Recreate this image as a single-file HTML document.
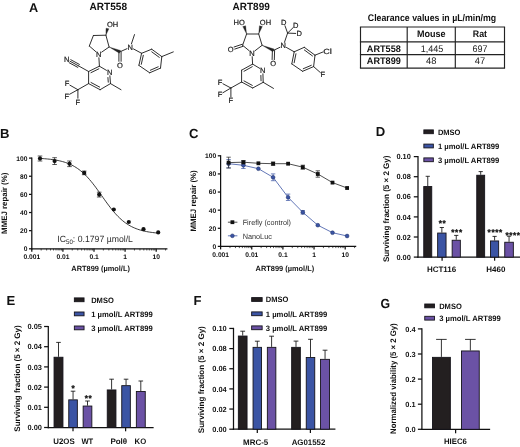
<!DOCTYPE html>
<html lang="en">
<head>
<meta charset="utf-8">
<title>ART558 / ART899 figure</title>
<style>
html,body{margin:0;padding:0;background:#fff;}
body{width:520px;height:447px;overflow:hidden;}
svg{display:block;font-family:'Liberation Sans', Arial, Helvetica, sans-serif;}
</style>
</head>
<body>
<svg width="520" height="447" viewBox="0 0 520 447" text-rendering="geometricPrecision">
<rect x="0" y="0" width="520" height="447" fill="#ffffff"/>
<g id="mol-art558">
<line x1="105.9" y1="35.2" x2="93.4" y2="35.5" stroke="#242424" stroke-width="0.95" stroke-linecap="round"/>
<line x1="93.4" y1="35.5" x2="89.3" y2="46" stroke="#242424" stroke-width="0.95" stroke-linecap="round"/>
<line x1="89.3" y1="46" x2="95.99" y2="51.83" stroke="#242424" stroke-width="0.95" stroke-linecap="round"/>
<line x1="101.66" y1="52.15" x2="109.1" y2="47" stroke="#242424" stroke-width="0.95" stroke-linecap="round"/>
<line x1="109.1" y1="47" x2="105.9" y2="35.2" stroke="#242424" stroke-width="0.95" stroke-linecap="round"/>
<polygon points="105.9,35.2 108.91,28.83 105.99,28.15" fill="#242424" stroke="#242424" stroke-width="0.3"/>
<polygon points="109.1,47 119.4,53.17 120.6,50.43" fill="#242424" stroke="#242424" stroke-width="0.3"/>
<line x1="118.9" y1="51.8" x2="118.9" y2="61.3" stroke="#242424" stroke-width="0.95" stroke-linecap="round"/>
<line x1="121.1" y1="51.8" x2="121.1" y2="61.3" stroke="#242424" stroke-width="0.95" stroke-linecap="round"/>
<line x1="120" y1="51.8" x2="127.01" y2="48.67" stroke="#242424" stroke-width="0.95" stroke-linecap="round"/>
<line x1="131.44" y1="43.78" x2="134.5" y2="34.6" stroke="#242424" stroke-width="0.95" stroke-linecap="round"/>
<line x1="133.47" y1="48.91" x2="141.6" y2="53.3" stroke="#242424" stroke-width="0.95" stroke-linecap="round"/>
<line x1="141.6" y1="53.3" x2="151.7" y2="49.2" stroke="#242424" stroke-width="0.95" stroke-linecap="round"/>
<line x1="151.7" y1="49.2" x2="161.8" y2="56.6" stroke="#242424" stroke-width="0.95" stroke-linecap="round"/>
<line x1="151.75" y1="51.84" x2="159.27" y2="57.35" stroke="#242424" stroke-width="0.95" stroke-linecap="round"/>
<line x1="161.8" y1="56.6" x2="160.5" y2="68.1" stroke="#242424" stroke-width="0.95" stroke-linecap="round"/>
<line x1="160.5" y1="68.1" x2="149.7" y2="72.8" stroke="#242424" stroke-width="0.95" stroke-linecap="round"/>
<line x1="158.19" y1="66.81" x2="150.33" y2="70.24" stroke="#242424" stroke-width="0.95" stroke-linecap="round"/>
<line x1="149.7" y1="72.8" x2="138.9" y2="65.4" stroke="#242424" stroke-width="0.95" stroke-linecap="round"/>
<line x1="138.9" y1="65.4" x2="141.6" y2="53.3" stroke="#242424" stroke-width="0.95" stroke-linecap="round"/>
<line x1="141.3" y1="64.3" x2="143.3" y2="55.32" stroke="#242424" stroke-width="0.95" stroke-linecap="round"/>
<line x1="161.8" y1="56.6" x2="173.3" y2="51.9" stroke="#242424" stroke-width="0.95" stroke-linecap="round"/>
<line x1="98.91" y1="57.79" x2="99.4" y2="66.2" stroke="#242424" stroke-width="0.95" stroke-linecap="round"/>
<line x1="99.4" y1="66.2" x2="106.5" y2="70.37" stroke="#242424" stroke-width="0.95" stroke-linecap="round"/>
<line x1="109.88" y1="75.79" x2="110.5" y2="83.6" stroke="#242424" stroke-width="0.95" stroke-linecap="round"/>
<line x1="107.92" y1="77.55" x2="108.28" y2="82.17" stroke="#242424" stroke-width="0.95" stroke-linecap="round"/>
<line x1="110.5" y1="83.6" x2="100.1" y2="89.7" stroke="#242424" stroke-width="0.95" stroke-linecap="round"/>
<line x1="100.1" y1="89.7" x2="88.6" y2="83.6" stroke="#242424" stroke-width="0.95" stroke-linecap="round"/>
<line x1="99.67" y1="87.1" x2="91" y2="82.49" stroke="#242424" stroke-width="0.95" stroke-linecap="round"/>
<line x1="88.6" y1="83.6" x2="88.6" y2="71.5" stroke="#242424" stroke-width="0.95" stroke-linecap="round"/>
<line x1="88.6" y1="71.5" x2="99.4" y2="66.2" stroke="#242424" stroke-width="0.95" stroke-linecap="round"/>
<line x1="90.96" y1="72.68" x2="98.89" y2="68.79" stroke="#242424" stroke-width="0.95" stroke-linecap="round"/>
<line x1="110.5" y1="83.6" x2="121" y2="89.7" stroke="#242424" stroke-width="0.95" stroke-linecap="round"/>
<line x1="88.6" y1="71.5" x2="78.6" y2="65.9" stroke="#242424" stroke-width="0.95" stroke-linecap="round"/>
<line x1="77.79" y1="67.39" x2="69.15" y2="62.71" stroke="#242424" stroke-width="0.95" stroke-linecap="round"/>
<line x1="78.6" y1="65.9" x2="69.96" y2="61.22" stroke="#242424" stroke-width="0.95" stroke-linecap="round"/>
<line x1="79.41" y1="64.41" x2="70.78" y2="59.72" stroke="#242424" stroke-width="0.95" stroke-linecap="round"/>
<line x1="88.6" y1="83.6" x2="77.9" y2="89.7" stroke="#242424" stroke-width="0.95" stroke-linecap="round"/>
<line x1="77.9" y1="89.7" x2="69.89" y2="85.17" stroke="#242424" stroke-width="0.95" stroke-linecap="round"/>
<line x1="77.9" y1="89.7" x2="69.6" y2="94.26" stroke="#242424" stroke-width="0.95" stroke-linecap="round"/>
<line x1="77.9" y1="89.7" x2="77.9" y2="98.2" stroke="#242424" stroke-width="0.95" stroke-linecap="round"/>
<text x="107" y="27.1" font-size="7.5" font-weight="normal" text-anchor="start" fill="#242424" stroke="#242424" stroke-width="0.22">OH</text>
<text x="98.7" y="56.9" font-size="7.5" font-weight="normal" text-anchor="middle" fill="#242424" stroke="#242424" stroke-width="0.22">N</text>
<text x="120" y="68" font-size="7.5" font-weight="normal" text-anchor="middle" fill="#242424" stroke="#242424" stroke-width="0.22">O</text>
<text x="130.3" y="49.9" font-size="7.5" font-weight="normal" text-anchor="middle" fill="#242424" stroke="#242424" stroke-width="0.22">N</text>
<text x="109.6" y="74.9" font-size="7.5" font-weight="normal" text-anchor="middle" fill="#242424" stroke="#242424" stroke-width="0.22">N</text>
<text x="66.8" y="62.2" font-size="7.5" font-weight="normal" text-anchor="middle" fill="#242424" stroke="#242424" stroke-width="0.22">N</text>
<text x="67.1" y="86.3" font-size="7.5" font-weight="normal" text-anchor="middle" fill="#242424" stroke="#242424" stroke-width="0.22">F</text>
<text x="66.8" y="98.5" font-size="7.5" font-weight="normal" text-anchor="middle" fill="#242424" stroke="#242424" stroke-width="0.22">F</text>
<text x="77.9" y="104.5" font-size="7.5" font-weight="normal" text-anchor="middle" fill="#242424" stroke="#242424" stroke-width="0.22">F</text>
</g>
<g id="mol-art899">
<line x1="246.6" y1="34" x2="258.7" y2="34" stroke="#242424" stroke-width="0.95" stroke-linecap="round"/>
<line x1="258.7" y1="34" x2="262.1" y2="45.3" stroke="#242424" stroke-width="0.95" stroke-linecap="round"/>
<line x1="262.1" y1="45.3" x2="254.85" y2="50.9" stroke="#242424" stroke-width="0.95" stroke-linecap="round"/>
<line x1="249.23" y1="50.8" x2="242.6" y2="45.3" stroke="#242424" stroke-width="0.95" stroke-linecap="round"/>
<line x1="242.6" y1="45.3" x2="246.6" y2="34" stroke="#242424" stroke-width="0.95" stroke-linecap="round"/>
<polygon points="246.6,34 245.65,25.69 242.78,26.55" fill="#242424" stroke="#242424" stroke-width="0.3"/>
<polygon points="258.7,34 262.32,26.55 259.43,25.75" fill="#242424" stroke="#242424" stroke-width="0.3"/>
<line x1="242.25" y1="44.26" x2="234.05" y2="46.99" stroke="#242424" stroke-width="0.95" stroke-linecap="round"/>
<line x1="242.95" y1="46.34" x2="234.74" y2="49.08" stroke="#242424" stroke-width="0.95" stroke-linecap="round"/>
<polygon points="262.1,45.3 272.89,51.77 274.11,49.03" fill="#242424" stroke="#242424" stroke-width="0.3"/>
<line x1="272.4" y1="50.37" x2="272.12" y2="59.57" stroke="#242424" stroke-width="0.95" stroke-linecap="round"/>
<line x1="274.6" y1="50.43" x2="274.32" y2="59.64" stroke="#242424" stroke-width="0.95" stroke-linecap="round"/>
<line x1="273.5" y1="50.4" x2="280.05" y2="47.26" stroke="#242424" stroke-width="0.95" stroke-linecap="round"/>
<line x1="284.46" y1="42.29" x2="287.6" y2="33.1" stroke="#242424" stroke-width="0.95" stroke-linecap="round"/>
<line x1="287.6" y1="33.1" x2="285" y2="25.79" stroke="#242424" stroke-width="0.95" stroke-linecap="round"/>
<line x1="287.6" y1="33.1" x2="293.14" y2="27.63" stroke="#242424" stroke-width="0.95" stroke-linecap="round"/>
<line x1="287.6" y1="33.1" x2="295.7" y2="33.45" stroke="#242424" stroke-width="0.95" stroke-linecap="round"/>
<line x1="286.44" y1="47.46" x2="294.2" y2="51.8" stroke="#242424" stroke-width="0.95" stroke-linecap="round"/>
<line x1="294.2" y1="51.8" x2="304.3" y2="47.3" stroke="#242424" stroke-width="0.95" stroke-linecap="round"/>
<line x1="304.3" y1="47.3" x2="315" y2="55.2" stroke="#242424" stroke-width="0.95" stroke-linecap="round"/>
<line x1="304.34" y1="49.94" x2="312.47" y2="55.94" stroke="#242424" stroke-width="0.95" stroke-linecap="round"/>
<line x1="315" y1="55.2" x2="313.6" y2="66.6" stroke="#242424" stroke-width="0.95" stroke-linecap="round"/>
<line x1="313.6" y1="66.6" x2="302.6" y2="71.3" stroke="#242424" stroke-width="0.95" stroke-linecap="round"/>
<line x1="311.3" y1="65.3" x2="303.25" y2="68.74" stroke="#242424" stroke-width="0.95" stroke-linecap="round"/>
<line x1="302.6" y1="71.3" x2="291.8" y2="63.9" stroke="#242424" stroke-width="0.95" stroke-linecap="round"/>
<line x1="291.8" y1="63.9" x2="294.2" y2="51.8" stroke="#242424" stroke-width="0.95" stroke-linecap="round"/>
<line x1="294.17" y1="62.74" x2="295.95" y2="53.78" stroke="#242424" stroke-width="0.95" stroke-linecap="round"/>
<line x1="315" y1="55.2" x2="322.82" y2="52.03" stroke="#242424" stroke-width="0.95" stroke-linecap="round"/>
<line x1="313.6" y1="66.6" x2="320.4" y2="72.59" stroke="#242424" stroke-width="0.95" stroke-linecap="round"/>
<line x1="252.2" y1="56.69" x2="252.6" y2="64.1" stroke="#242424" stroke-width="0.95" stroke-linecap="round"/>
<line x1="252.6" y1="64.1" x2="259.71" y2="68.35" stroke="#242424" stroke-width="0.95" stroke-linecap="round"/>
<line x1="262.92" y1="73.8" x2="263.2" y2="82.3" stroke="#242424" stroke-width="0.95" stroke-linecap="round"/>
<line x1="260.87" y1="75.47" x2="261.05" y2="80.77" stroke="#242424" stroke-width="0.95" stroke-linecap="round"/>
<line x1="263.2" y1="82.3" x2="252.7" y2="88" stroke="#242424" stroke-width="0.95" stroke-linecap="round"/>
<line x1="252.7" y1="88" x2="241.6" y2="82" stroke="#242424" stroke-width="0.95" stroke-linecap="round"/>
<line x1="252.29" y1="85.39" x2="244.01" y2="80.91" stroke="#242424" stroke-width="0.95" stroke-linecap="round"/>
<line x1="241.6" y1="82" x2="241.6" y2="70.2" stroke="#242424" stroke-width="0.95" stroke-linecap="round"/>
<line x1="241.6" y1="70.2" x2="252.6" y2="64.1" stroke="#242424" stroke-width="0.95" stroke-linecap="round"/>
<line x1="244.02" y1="71.26" x2="252.22" y2="66.71" stroke="#242424" stroke-width="0.95" stroke-linecap="round"/>
<line x1="263.2" y1="82.3" x2="273.5" y2="88.4" stroke="#242424" stroke-width="0.95" stroke-linecap="round"/>
<line x1="241.6" y1="82" x2="230.9" y2="88" stroke="#242424" stroke-width="0.95" stroke-linecap="round"/>
<line x1="230.9" y1="88" x2="222.93" y2="83.79" stroke="#242424" stroke-width="0.95" stroke-linecap="round"/>
<line x1="230.9" y1="88" x2="222.85" y2="92.77" stroke="#242424" stroke-width="0.95" stroke-linecap="round"/>
<line x1="230.9" y1="88" x2="230.9" y2="96.9" stroke="#242424" stroke-width="0.95" stroke-linecap="round"/>
<text x="244.8" y="24.8" font-size="7.5" font-weight="normal" text-anchor="end" fill="#242424" stroke="#242424" stroke-width="0.22">HO</text>
<text x="259.8" y="24.8" font-size="7.5" font-weight="normal" text-anchor="start" fill="#242424" stroke="#242424" stroke-width="0.22">OH</text>
<text x="230.6" y="52" font-size="7.5" font-weight="normal" text-anchor="middle" fill="#242424" stroke="#242424" stroke-width="0.22">O</text>
<text x="252" y="55.8" font-size="7.5" font-weight="normal" text-anchor="middle" fill="#242424" stroke="#242424" stroke-width="0.22">N</text>
<text x="273.1" y="66.3" font-size="7.5" font-weight="normal" text-anchor="middle" fill="#242424" stroke="#242424" stroke-width="0.22">O</text>
<text x="283.3" y="48.4" font-size="7.5" font-weight="normal" text-anchor="middle" fill="#242424" stroke="#242424" stroke-width="0.22">N</text>
<text x="283.8" y="25.1" font-size="7.5" font-weight="normal" text-anchor="middle" fill="#242424" stroke="#242424" stroke-width="0.22">D</text>
<text x="295.7" y="27.8" font-size="7.5" font-weight="normal" text-anchor="middle" fill="#242424" stroke="#242424" stroke-width="0.22">D</text>
<text x="299.3" y="36.3" font-size="7.5" font-weight="normal" text-anchor="middle" fill="#242424" stroke="#242424" stroke-width="0.22">D</text>
<text x="323.2" y="53.6" font-size="7.5" font-weight="normal" text-anchor="start" fill="#242424" textLength="8.6" lengthAdjust="spacingAndGlyphs" stroke="#242424" stroke-width="0.22">Cl</text>
<text x="322.8" y="77.4" font-size="7.5" font-weight="normal" text-anchor="middle" fill="#242424" stroke="#242424" stroke-width="0.22">F</text>
<text x="262.8" y="72.9" font-size="7.5" font-weight="normal" text-anchor="middle" fill="#242424" stroke="#242424" stroke-width="0.22">N</text>
<text x="220.1" y="85" font-size="7.5" font-weight="normal" text-anchor="middle" fill="#242424" stroke="#242424" stroke-width="0.22">F</text>
<text x="220.1" y="97.1" font-size="7.5" font-weight="normal" text-anchor="middle" fill="#242424" stroke="#242424" stroke-width="0.22">F</text>
<text x="230.9" y="103.2" font-size="7.5" font-weight="normal" text-anchor="middle" fill="#242424" stroke="#242424" stroke-width="0.22">F</text>
</g>
<text x="29" y="12.1" font-size="12.7" font-weight="bold" text-anchor="start" fill="#111">A</text>
<text x="89.5" y="10" font-size="10.4" font-weight="bold" text-anchor="start" fill="#111" textLength="37.5" lengthAdjust="spacingAndGlyphs">ART558</text>
<text x="232.6" y="10" font-size="10.4" font-weight="bold" text-anchor="start" fill="#111" textLength="37.2" lengthAdjust="spacingAndGlyphs">ART899</text>
<text x="0" y="138.3" font-size="13.1" font-weight="bold" text-anchor="start" fill="#111">B</text>
<text x="189" y="138.4" font-size="13.1" font-weight="bold" text-anchor="start" fill="#111">C</text>
<text x="375.8" y="136.3" font-size="13.1" font-weight="bold" text-anchor="start" fill="#111">D</text>
<text x="6.4" y="304.8" font-size="13.1" font-weight="bold" text-anchor="start" fill="#111">E</text>
<text x="193.6" y="305.3" font-size="13.1" font-weight="bold" text-anchor="start" fill="#111">F</text>
<text x="380.6" y="308.3" font-size="13.1" font-weight="bold" text-anchor="start" fill="#111" textLength="9.6" lengthAdjust="spacingAndGlyphs">G</text>
<text x="432" y="21.4" font-size="9.7" font-weight="bold" text-anchor="middle" fill="#111" textLength="128.4" lengthAdjust="spacingAndGlyphs">Clearance values in µL/min/mg</text>
<line x1="360.5" y1="27" x2="504.5" y2="27" stroke="#222" stroke-width="1.15" stroke-linecap="square"/>
<line x1="360.5" y1="41.8" x2="504.5" y2="41.8" stroke="#222" stroke-width="1.15" stroke-linecap="square"/>
<line x1="360.5" y1="54.6" x2="504.5" y2="54.6" stroke="#222" stroke-width="1.15" stroke-linecap="square"/>
<line x1="360.5" y1="68.1" x2="504.5" y2="68.1" stroke="#222" stroke-width="1.15" stroke-linecap="square"/>
<line x1="360.5" y1="27" x2="360.5" y2="68.1" stroke="#222" stroke-width="1.15" stroke-linecap="butt"/>
<line x1="407.2" y1="27" x2="407.2" y2="68.1" stroke="#222" stroke-width="1.15" stroke-linecap="butt"/>
<line x1="455.3" y1="27" x2="455.3" y2="68.1" stroke="#222" stroke-width="1.15" stroke-linecap="butt"/>
<line x1="504.5" y1="27" x2="504.5" y2="68.1" stroke="#222" stroke-width="1.15" stroke-linecap="butt"/>
<text x="431.25" y="37.4" font-size="9.6" font-weight="bold" text-anchor="middle" fill="#111" textLength="28.6" lengthAdjust="spacingAndGlyphs">Mouse</text>
<text x="479.9" y="37.4" font-size="9.6" font-weight="bold" text-anchor="middle" fill="#111" textLength="14.2" lengthAdjust="spacingAndGlyphs">Rat</text>
<text x="383.85" y="51.5" font-size="9.6" font-weight="bold" text-anchor="middle" fill="#111" textLength="34" lengthAdjust="spacingAndGlyphs">ART558</text>
<text x="383.85" y="64.4" font-size="9.6" font-weight="bold" text-anchor="middle" fill="#111" textLength="34" lengthAdjust="spacingAndGlyphs">ART899</text>
<text x="432.05" y="51.7" font-size="9.6" font-weight="normal" text-anchor="middle" fill="#222" textLength="22.6" lengthAdjust="spacingAndGlyphs">1,445</text>
<text x="479.9" y="51.7" font-size="9.6" font-weight="normal" text-anchor="middle" fill="#222" textLength="15" lengthAdjust="spacingAndGlyphs">697</text>
<text x="431.25" y="64.4" font-size="9.6" font-weight="normal" text-anchor="middle" fill="#222" textLength="10.4" lengthAdjust="spacingAndGlyphs">48</text>
<text x="479.9" y="64.4" font-size="9.6" font-weight="normal" text-anchor="middle" fill="#222" textLength="10.4" lengthAdjust="spacingAndGlyphs">47</text>
<g id="panel-b">
<line x1="31.8" y1="158.1" x2="31.8" y2="248.8" stroke="#111" stroke-width="1.25" stroke-linecap="square"/>
<line x1="29" y1="248.8" x2="31.8" y2="248.8" stroke="#111" stroke-width="1.25" stroke-linecap="butt"/>
<text x="27.4" y="251.21" font-size="6.7" font-weight="bold" text-anchor="end" fill="#111">0</text>
<line x1="29" y1="230.66" x2="31.8" y2="230.66" stroke="#111" stroke-width="1.25" stroke-linecap="butt"/>
<text x="27.4" y="233.07" font-size="6.7" font-weight="bold" text-anchor="end" fill="#111">20</text>
<line x1="29" y1="212.52" x2="31.8" y2="212.52" stroke="#111" stroke-width="1.25" stroke-linecap="butt"/>
<text x="27.4" y="214.93" font-size="6.7" font-weight="bold" text-anchor="end" fill="#111">40</text>
<line x1="29" y1="194.38" x2="31.8" y2="194.38" stroke="#111" stroke-width="1.25" stroke-linecap="butt"/>
<text x="27.4" y="196.79" font-size="6.7" font-weight="bold" text-anchor="end" fill="#111">60</text>
<line x1="29" y1="176.24" x2="31.8" y2="176.24" stroke="#111" stroke-width="1.25" stroke-linecap="butt"/>
<text x="27.4" y="178.65" font-size="6.7" font-weight="bold" text-anchor="end" fill="#111">80</text>
<line x1="29" y1="158.1" x2="31.8" y2="158.1" stroke="#111" stroke-width="1.25" stroke-linecap="butt"/>
<text x="27.4" y="160.51" font-size="6.7" font-weight="bold" text-anchor="end" fill="#111">100</text>
<line x1="31.8" y1="248.8" x2="166.8" y2="248.8" stroke="#111" stroke-width="1.25" stroke-linecap="square"/>
<line x1="31.8" y1="248.8" x2="31.8" y2="251.8" stroke="#111" stroke-width="1.25" stroke-linecap="butt"/>
<line x1="41.16" y1="248.8" x2="41.16" y2="250.5" stroke="#111" stroke-width="0.7" stroke-linecap="butt"/>
<line x1="46.64" y1="248.8" x2="46.64" y2="250.5" stroke="#111" stroke-width="0.7" stroke-linecap="butt"/>
<line x1="50.52" y1="248.8" x2="50.52" y2="250.5" stroke="#111" stroke-width="0.7" stroke-linecap="butt"/>
<line x1="53.54" y1="248.8" x2="53.54" y2="250.5" stroke="#111" stroke-width="0.7" stroke-linecap="butt"/>
<line x1="56" y1="248.8" x2="56" y2="250.5" stroke="#111" stroke-width="0.7" stroke-linecap="butt"/>
<line x1="58.08" y1="248.8" x2="58.08" y2="250.5" stroke="#111" stroke-width="0.7" stroke-linecap="butt"/>
<line x1="59.89" y1="248.8" x2="59.89" y2="250.5" stroke="#111" stroke-width="0.7" stroke-linecap="butt"/>
<line x1="61.48" y1="248.8" x2="61.48" y2="250.5" stroke="#111" stroke-width="0.7" stroke-linecap="butt"/>
<line x1="62.9" y1="248.8" x2="62.9" y2="251.8" stroke="#111" stroke-width="1.25" stroke-linecap="butt"/>
<line x1="72.26" y1="248.8" x2="72.26" y2="250.5" stroke="#111" stroke-width="0.7" stroke-linecap="butt"/>
<line x1="77.74" y1="248.8" x2="77.74" y2="250.5" stroke="#111" stroke-width="0.7" stroke-linecap="butt"/>
<line x1="81.62" y1="248.8" x2="81.62" y2="250.5" stroke="#111" stroke-width="0.7" stroke-linecap="butt"/>
<line x1="84.64" y1="248.8" x2="84.64" y2="250.5" stroke="#111" stroke-width="0.7" stroke-linecap="butt"/>
<line x1="87.1" y1="248.8" x2="87.1" y2="250.5" stroke="#111" stroke-width="0.7" stroke-linecap="butt"/>
<line x1="89.18" y1="248.8" x2="89.18" y2="250.5" stroke="#111" stroke-width="0.7" stroke-linecap="butt"/>
<line x1="90.99" y1="248.8" x2="90.99" y2="250.5" stroke="#111" stroke-width="0.7" stroke-linecap="butt"/>
<line x1="92.58" y1="248.8" x2="92.58" y2="250.5" stroke="#111" stroke-width="0.7" stroke-linecap="butt"/>
<line x1="94" y1="248.8" x2="94" y2="251.8" stroke="#111" stroke-width="1.25" stroke-linecap="butt"/>
<line x1="103.36" y1="248.8" x2="103.36" y2="250.5" stroke="#111" stroke-width="0.7" stroke-linecap="butt"/>
<line x1="108.84" y1="248.8" x2="108.84" y2="250.5" stroke="#111" stroke-width="0.7" stroke-linecap="butt"/>
<line x1="112.72" y1="248.8" x2="112.72" y2="250.5" stroke="#111" stroke-width="0.7" stroke-linecap="butt"/>
<line x1="115.74" y1="248.8" x2="115.74" y2="250.5" stroke="#111" stroke-width="0.7" stroke-linecap="butt"/>
<line x1="118.2" y1="248.8" x2="118.2" y2="250.5" stroke="#111" stroke-width="0.7" stroke-linecap="butt"/>
<line x1="120.28" y1="248.8" x2="120.28" y2="250.5" stroke="#111" stroke-width="0.7" stroke-linecap="butt"/>
<line x1="122.09" y1="248.8" x2="122.09" y2="250.5" stroke="#111" stroke-width="0.7" stroke-linecap="butt"/>
<line x1="123.68" y1="248.8" x2="123.68" y2="250.5" stroke="#111" stroke-width="0.7" stroke-linecap="butt"/>
<line x1="125.1" y1="248.8" x2="125.1" y2="251.8" stroke="#111" stroke-width="1.25" stroke-linecap="butt"/>
<line x1="134.46" y1="248.8" x2="134.46" y2="250.5" stroke="#111" stroke-width="0.7" stroke-linecap="butt"/>
<line x1="139.94" y1="248.8" x2="139.94" y2="250.5" stroke="#111" stroke-width="0.7" stroke-linecap="butt"/>
<line x1="143.82" y1="248.8" x2="143.82" y2="250.5" stroke="#111" stroke-width="0.7" stroke-linecap="butt"/>
<line x1="146.84" y1="248.8" x2="146.84" y2="250.5" stroke="#111" stroke-width="0.7" stroke-linecap="butt"/>
<line x1="149.3" y1="248.8" x2="149.3" y2="250.5" stroke="#111" stroke-width="0.7" stroke-linecap="butt"/>
<line x1="151.38" y1="248.8" x2="151.38" y2="250.5" stroke="#111" stroke-width="0.7" stroke-linecap="butt"/>
<line x1="153.19" y1="248.8" x2="153.19" y2="250.5" stroke="#111" stroke-width="0.7" stroke-linecap="butt"/>
<line x1="154.78" y1="248.8" x2="154.78" y2="250.5" stroke="#111" stroke-width="0.7" stroke-linecap="butt"/>
<line x1="156.2" y1="248.8" x2="156.2" y2="251.8" stroke="#111" stroke-width="1.25" stroke-linecap="butt"/>
<line x1="165.56" y1="248.8" x2="165.56" y2="250.5" stroke="#111" stroke-width="0.7" stroke-linecap="butt"/>
<text x="31.9" y="258.9" font-size="6.7" font-weight="bold" text-anchor="middle" fill="#111">0.001</text>
<text x="63" y="258.9" font-size="6.7" font-weight="bold" text-anchor="middle" fill="#111">0.01</text>
<text x="94.1" y="258.9" font-size="6.7" font-weight="bold" text-anchor="middle" fill="#111">0.1</text>
<text x="125.2" y="258.9" font-size="6.7" font-weight="bold" text-anchor="middle" fill="#111">1</text>
<text x="156.3" y="258.9" font-size="6.7" font-weight="bold" text-anchor="middle" fill="#111">10</text>
<text x="6.9" y="203.3" font-size="7.9" font-weight="bold" text-anchor="middle" fill="#111" transform="rotate(-90 6.9 203.3)" textLength="61.2" lengthAdjust="spacingAndGlyphs">MMEJ repair (%)</text>
<text x="100.6" y="270.5" font-size="7.5" font-weight="bold" text-anchor="middle" fill="#111" textLength="58.6" lengthAdjust="spacingAndGlyphs">ART899 (µmol/L)</text>
<polyline fill="none" stroke="#222" stroke-width="0.9" points="40.1,158.43 41.6,158.52 43.1,158.62 44.6,158.73 46.1,158.86 47.6,159 49.1,159.15 50.6,159.32 52.1,159.52 53.6,159.73 55.1,159.97 56.6,160.23 58.1,160.52 59.6,160.85 61.1,161.21 62.6,161.6 64.1,162.04 65.6,162.52 67.1,163.06 68.6,163.64 70.1,164.29 71.6,164.99 73.1,165.76 74.6,166.6 76.1,167.52 77.6,168.51 79.1,169.59 80.6,170.76 82.1,172.01 83.6,173.35 85.1,174.78 86.6,176.3 88.1,177.91 89.6,179.61 91.1,181.39 92.6,183.25 94.1,185.18 95.6,187.17 97.1,189.21 98.6,191.29 100.1,193.39 101.6,195.52 103.1,197.65 104.6,199.76 106.1,201.86 107.6,203.91 109.1,205.92 110.6,207.88 112.1,209.77 113.6,211.58 115.1,213.31 116.6,214.96 118.1,216.52 119.6,217.99 121.1,219.37 122.6,220.66 124.1,221.86 125.6,222.98 127.1,224 128.6,224.95 130.1,225.83 131.6,226.63 133.1,227.36 134.6,228.03 136.1,228.64 137.6,229.19 139.1,229.7 140.6,230.15 142.1,230.57 143.6,230.94 145.1,231.28 146.6,231.58 148.1,231.86 149.6,232.11 151.1,232.33 152.6,232.53 154.1,232.71 155.6,232.87 157.1,233.02"/>
<line x1="40" y1="156" x2="40" y2="161" stroke="#111" stroke-width="0.7" stroke-linecap="butt"/>
<line x1="37.7" y1="156" x2="42.3" y2="156" stroke="#111" stroke-width="0.7" stroke-linecap="butt"/>
<line x1="37.7" y1="161" x2="42.3" y2="161" stroke="#111" stroke-width="0.7" stroke-linecap="butt"/>
<circle cx="40" cy="158.5" r="2.1" fill="#111"/>
<line x1="54.6" y1="157.7" x2="54.6" y2="164.5" stroke="#111" stroke-width="0.7" stroke-linecap="butt"/>
<line x1="52.3" y1="157.7" x2="56.9" y2="157.7" stroke="#111" stroke-width="0.7" stroke-linecap="butt"/>
<line x1="52.3" y1="164.5" x2="56.9" y2="164.5" stroke="#111" stroke-width="0.7" stroke-linecap="butt"/>
<circle cx="54.6" cy="161.1" r="2.1" fill="#111"/>
<line x1="69.5" y1="161" x2="69.5" y2="166.6" stroke="#111" stroke-width="0.7" stroke-linecap="butt"/>
<line x1="67.2" y1="161" x2="71.8" y2="161" stroke="#111" stroke-width="0.7" stroke-linecap="butt"/>
<line x1="67.2" y1="166.6" x2="71.8" y2="166.6" stroke="#111" stroke-width="0.7" stroke-linecap="butt"/>
<circle cx="69.5" cy="163.8" r="2.1" fill="#111"/>
<line x1="84.2" y1="171.1" x2="84.2" y2="174.7" stroke="#111" stroke-width="0.7" stroke-linecap="butt"/>
<line x1="81.9" y1="171.1" x2="86.5" y2="171.1" stroke="#111" stroke-width="0.7" stroke-linecap="butt"/>
<line x1="81.9" y1="174.7" x2="86.5" y2="174.7" stroke="#111" stroke-width="0.7" stroke-linecap="butt"/>
<circle cx="84.2" cy="172.9" r="2.1" fill="#111"/>
<line x1="99.2" y1="192.2" x2="99.2" y2="197" stroke="#111" stroke-width="0.7" stroke-linecap="butt"/>
<line x1="96.9" y1="192.2" x2="101.5" y2="192.2" stroke="#111" stroke-width="0.7" stroke-linecap="butt"/>
<line x1="96.9" y1="197" x2="101.5" y2="197" stroke="#111" stroke-width="0.7" stroke-linecap="butt"/>
<circle cx="99.2" cy="194.6" r="2.1" fill="#111"/>
<circle cx="113.8" cy="209.5" r="2.1" fill="#111"/>
<circle cx="128.8" cy="222" r="2.1" fill="#111"/>
<circle cx="143.5" cy="229.2" r="2.1" fill="#111"/>
<circle cx="158.2" cy="232.4" r="2.1" fill="#111"/>
<text x="57.3" y="241.9" font-size="9" font-weight="normal" fill="#2e2e2e" textLength="75.6" lengthAdjust="spacingAndGlyphs">IC<tspan font-size="6.4" dy="2">50</tspan><tspan dy="-2">: 0.1797 µmol/L</tspan></text>
</g>
<g id="panel-c">
<line x1="220.6" y1="155.8" x2="220.6" y2="246.4" stroke="#111" stroke-width="1.25" stroke-linecap="square"/>
<line x1="217.8" y1="246.4" x2="220.6" y2="246.4" stroke="#111" stroke-width="1.25" stroke-linecap="butt"/>
<text x="216.2" y="248.81" font-size="6.7" font-weight="bold" text-anchor="end" fill="#111">0</text>
<line x1="217.8" y1="228.28" x2="220.6" y2="228.28" stroke="#111" stroke-width="1.25" stroke-linecap="butt"/>
<text x="216.2" y="230.69" font-size="6.7" font-weight="bold" text-anchor="end" fill="#111">20</text>
<line x1="217.8" y1="210.16" x2="220.6" y2="210.16" stroke="#111" stroke-width="1.25" stroke-linecap="butt"/>
<text x="216.2" y="212.57" font-size="6.7" font-weight="bold" text-anchor="end" fill="#111">40</text>
<line x1="217.8" y1="192.04" x2="220.6" y2="192.04" stroke="#111" stroke-width="1.25" stroke-linecap="butt"/>
<text x="216.2" y="194.45" font-size="6.7" font-weight="bold" text-anchor="end" fill="#111">60</text>
<line x1="217.8" y1="173.92" x2="220.6" y2="173.92" stroke="#111" stroke-width="1.25" stroke-linecap="butt"/>
<text x="216.2" y="176.33" font-size="6.7" font-weight="bold" text-anchor="end" fill="#111">80</text>
<line x1="217.8" y1="155.8" x2="220.6" y2="155.8" stroke="#111" stroke-width="1.25" stroke-linecap="butt"/>
<text x="216.2" y="158.21" font-size="6.7" font-weight="bold" text-anchor="end" fill="#111">100</text>
<line x1="220.6" y1="246.4" x2="355.6" y2="246.4" stroke="#111" stroke-width="1.25" stroke-linecap="square"/>
<line x1="220.6" y1="246.4" x2="220.6" y2="249.4" stroke="#111" stroke-width="1.25" stroke-linecap="butt"/>
<line x1="229.98" y1="246.4" x2="229.98" y2="248.1" stroke="#111" stroke-width="0.7" stroke-linecap="butt"/>
<line x1="235.46" y1="246.4" x2="235.46" y2="248.1" stroke="#111" stroke-width="0.7" stroke-linecap="butt"/>
<line x1="239.35" y1="246.4" x2="239.35" y2="248.1" stroke="#111" stroke-width="0.7" stroke-linecap="butt"/>
<line x1="242.37" y1="246.4" x2="242.37" y2="248.1" stroke="#111" stroke-width="0.7" stroke-linecap="butt"/>
<line x1="244.84" y1="246.4" x2="244.84" y2="248.1" stroke="#111" stroke-width="0.7" stroke-linecap="butt"/>
<line x1="246.92" y1="246.4" x2="246.92" y2="248.1" stroke="#111" stroke-width="0.7" stroke-linecap="butt"/>
<line x1="248.73" y1="246.4" x2="248.73" y2="248.1" stroke="#111" stroke-width="0.7" stroke-linecap="butt"/>
<line x1="250.32" y1="246.4" x2="250.32" y2="248.1" stroke="#111" stroke-width="0.7" stroke-linecap="butt"/>
<line x1="251.75" y1="246.4" x2="251.75" y2="249.4" stroke="#111" stroke-width="1.25" stroke-linecap="butt"/>
<line x1="261.13" y1="246.4" x2="261.13" y2="248.1" stroke="#111" stroke-width="0.7" stroke-linecap="butt"/>
<line x1="266.61" y1="246.4" x2="266.61" y2="248.1" stroke="#111" stroke-width="0.7" stroke-linecap="butt"/>
<line x1="270.5" y1="246.4" x2="270.5" y2="248.1" stroke="#111" stroke-width="0.7" stroke-linecap="butt"/>
<line x1="273.52" y1="246.4" x2="273.52" y2="248.1" stroke="#111" stroke-width="0.7" stroke-linecap="butt"/>
<line x1="275.99" y1="246.4" x2="275.99" y2="248.1" stroke="#111" stroke-width="0.7" stroke-linecap="butt"/>
<line x1="278.07" y1="246.4" x2="278.07" y2="248.1" stroke="#111" stroke-width="0.7" stroke-linecap="butt"/>
<line x1="279.88" y1="246.4" x2="279.88" y2="248.1" stroke="#111" stroke-width="0.7" stroke-linecap="butt"/>
<line x1="281.47" y1="246.4" x2="281.47" y2="248.1" stroke="#111" stroke-width="0.7" stroke-linecap="butt"/>
<line x1="282.9" y1="246.4" x2="282.9" y2="249.4" stroke="#111" stroke-width="1.25" stroke-linecap="butt"/>
<line x1="292.28" y1="246.4" x2="292.28" y2="248.1" stroke="#111" stroke-width="0.7" stroke-linecap="butt"/>
<line x1="297.76" y1="246.4" x2="297.76" y2="248.1" stroke="#111" stroke-width="0.7" stroke-linecap="butt"/>
<line x1="301.65" y1="246.4" x2="301.65" y2="248.1" stroke="#111" stroke-width="0.7" stroke-linecap="butt"/>
<line x1="304.67" y1="246.4" x2="304.67" y2="248.1" stroke="#111" stroke-width="0.7" stroke-linecap="butt"/>
<line x1="307.14" y1="246.4" x2="307.14" y2="248.1" stroke="#111" stroke-width="0.7" stroke-linecap="butt"/>
<line x1="309.22" y1="246.4" x2="309.22" y2="248.1" stroke="#111" stroke-width="0.7" stroke-linecap="butt"/>
<line x1="311.03" y1="246.4" x2="311.03" y2="248.1" stroke="#111" stroke-width="0.7" stroke-linecap="butt"/>
<line x1="312.62" y1="246.4" x2="312.62" y2="248.1" stroke="#111" stroke-width="0.7" stroke-linecap="butt"/>
<line x1="314.05" y1="246.4" x2="314.05" y2="249.4" stroke="#111" stroke-width="1.25" stroke-linecap="butt"/>
<line x1="323.43" y1="246.4" x2="323.43" y2="248.1" stroke="#111" stroke-width="0.7" stroke-linecap="butt"/>
<line x1="328.91" y1="246.4" x2="328.91" y2="248.1" stroke="#111" stroke-width="0.7" stroke-linecap="butt"/>
<line x1="332.8" y1="246.4" x2="332.8" y2="248.1" stroke="#111" stroke-width="0.7" stroke-linecap="butt"/>
<line x1="335.82" y1="246.4" x2="335.82" y2="248.1" stroke="#111" stroke-width="0.7" stroke-linecap="butt"/>
<line x1="338.29" y1="246.4" x2="338.29" y2="248.1" stroke="#111" stroke-width="0.7" stroke-linecap="butt"/>
<line x1="340.37" y1="246.4" x2="340.37" y2="248.1" stroke="#111" stroke-width="0.7" stroke-linecap="butt"/>
<line x1="342.18" y1="246.4" x2="342.18" y2="248.1" stroke="#111" stroke-width="0.7" stroke-linecap="butt"/>
<line x1="343.77" y1="246.4" x2="343.77" y2="248.1" stroke="#111" stroke-width="0.7" stroke-linecap="butt"/>
<line x1="345.2" y1="246.4" x2="345.2" y2="249.4" stroke="#111" stroke-width="1.25" stroke-linecap="butt"/>
<line x1="354.58" y1="246.4" x2="354.58" y2="248.1" stroke="#111" stroke-width="0.7" stroke-linecap="butt"/>
<text x="220.7" y="256.9" font-size="6.7" font-weight="bold" text-anchor="middle" fill="#111">0.001</text>
<text x="251.85" y="256.9" font-size="6.7" font-weight="bold" text-anchor="middle" fill="#111">0.01</text>
<text x="283" y="256.9" font-size="6.7" font-weight="bold" text-anchor="middle" fill="#111">0.1</text>
<text x="314.15" y="256.9" font-size="6.7" font-weight="bold" text-anchor="middle" fill="#111">1</text>
<text x="345.3" y="256.9" font-size="6.7" font-weight="bold" text-anchor="middle" fill="#111">10</text>
<text x="195.9" y="200.9" font-size="7.9" font-weight="bold" text-anchor="middle" fill="#111" transform="rotate(-90 195.9 200.9)" textLength="61.2" lengthAdjust="spacingAndGlyphs">MMEJ repair (%)</text>
<text x="284.9" y="270.5" font-size="7.5" font-weight="bold" text-anchor="middle" fill="#111" textLength="58.6" lengthAdjust="spacingAndGlyphs">ART899 (µmol/L)</text>
<polyline fill="none" stroke="#3b54a4" stroke-width="0.8" points="228.6,163.7 243.4,165.3 258.4,168.7 273.1,177.3 288.1,197.3 302.8,212.3 317.8,225.2 332.5,232.7 347.1,236"/>
<line x1="228.6" y1="159.5" x2="228.6" y2="167.9" stroke="#3b54a4" stroke-width="0.7" stroke-linecap="butt"/>
<line x1="226.4" y1="159.5" x2="230.8" y2="159.5" stroke="#3b54a4" stroke-width="0.7" stroke-linecap="butt"/>
<line x1="226.4" y1="167.9" x2="230.8" y2="167.9" stroke="#3b54a4" stroke-width="0.7" stroke-linecap="butt"/>
<circle cx="228.6" cy="163.7" r="1.9" fill="#3b54a4" stroke="#1d2f63" stroke-width="0.5"/>
<line x1="243.4" y1="162.1" x2="243.4" y2="168.5" stroke="#3b54a4" stroke-width="0.7" stroke-linecap="butt"/>
<line x1="241.2" y1="162.1" x2="245.6" y2="162.1" stroke="#3b54a4" stroke-width="0.7" stroke-linecap="butt"/>
<line x1="241.2" y1="168.5" x2="245.6" y2="168.5" stroke="#3b54a4" stroke-width="0.7" stroke-linecap="butt"/>
<circle cx="243.4" cy="165.3" r="1.9" fill="#3b54a4" stroke="#1d2f63" stroke-width="0.5"/>
<circle cx="258.4" cy="168.7" r="1.9" fill="#3b54a4" stroke="#1d2f63" stroke-width="0.5"/>
<line x1="273.1" y1="173.9" x2="273.1" y2="180.7" stroke="#3b54a4" stroke-width="0.7" stroke-linecap="butt"/>
<line x1="270.9" y1="173.9" x2="275.3" y2="173.9" stroke="#3b54a4" stroke-width="0.7" stroke-linecap="butt"/>
<line x1="270.9" y1="180.7" x2="275.3" y2="180.7" stroke="#3b54a4" stroke-width="0.7" stroke-linecap="butt"/>
<circle cx="273.1" cy="177.3" r="1.9" fill="#3b54a4" stroke="#1d2f63" stroke-width="0.5"/>
<line x1="288.1" y1="194.1" x2="288.1" y2="200.5" stroke="#3b54a4" stroke-width="0.7" stroke-linecap="butt"/>
<line x1="285.9" y1="194.1" x2="290.3" y2="194.1" stroke="#3b54a4" stroke-width="0.7" stroke-linecap="butt"/>
<line x1="285.9" y1="200.5" x2="290.3" y2="200.5" stroke="#3b54a4" stroke-width="0.7" stroke-linecap="butt"/>
<circle cx="288.1" cy="197.3" r="1.9" fill="#3b54a4" stroke="#1d2f63" stroke-width="0.5"/>
<line x1="302.8" y1="210.5" x2="302.8" y2="214.1" stroke="#3b54a4" stroke-width="0.7" stroke-linecap="butt"/>
<line x1="300.6" y1="210.5" x2="305" y2="210.5" stroke="#3b54a4" stroke-width="0.7" stroke-linecap="butt"/>
<line x1="300.6" y1="214.1" x2="305" y2="214.1" stroke="#3b54a4" stroke-width="0.7" stroke-linecap="butt"/>
<circle cx="302.8" cy="212.3" r="1.9" fill="#3b54a4" stroke="#1d2f63" stroke-width="0.5"/>
<circle cx="317.8" cy="225.2" r="1.9" fill="#3b54a4" stroke="#1d2f63" stroke-width="0.5"/>
<circle cx="332.5" cy="232.7" r="1.9" fill="#3b54a4" stroke="#1d2f63" stroke-width="0.5"/>
<circle cx="347.1" cy="236" r="1.9" fill="#3b54a4" stroke="#1d2f63" stroke-width="0.5"/>
<polyline fill="none" stroke="#222" stroke-width="0.8" points="228.6,162.6 243.4,162.2 258.4,163.3 273.1,163.7 288.1,163.7 302.8,167.2 317.8,174 332.5,182.6 347.1,188"/>
<line x1="228.6" y1="157.2" x2="228.6" y2="168" stroke="#222" stroke-width="0.7" stroke-linecap="butt"/>
<line x1="226.4" y1="157.2" x2="230.8" y2="157.2" stroke="#222" stroke-width="0.7" stroke-linecap="butt"/>
<line x1="226.4" y1="168" x2="230.8" y2="168" stroke="#222" stroke-width="0.7" stroke-linecap="butt"/>
<rect x="226.7" y="160.7" width="3.8" height="3.8" fill="#111"/>
<line x1="243.4" y1="160.6" x2="243.4" y2="163.8" stroke="#222" stroke-width="0.7" stroke-linecap="butt"/>
<line x1="241.2" y1="160.6" x2="245.6" y2="160.6" stroke="#222" stroke-width="0.7" stroke-linecap="butt"/>
<line x1="241.2" y1="163.8" x2="245.6" y2="163.8" stroke="#222" stroke-width="0.7" stroke-linecap="butt"/>
<rect x="241.5" y="160.3" width="3.8" height="3.8" fill="#111"/>
<rect x="256.5" y="161.4" width="3.8" height="3.8" fill="#111"/>
<line x1="273.1" y1="162.1" x2="273.1" y2="165.3" stroke="#222" stroke-width="0.7" stroke-linecap="butt"/>
<line x1="270.9" y1="162.1" x2="275.3" y2="162.1" stroke="#222" stroke-width="0.7" stroke-linecap="butt"/>
<line x1="270.9" y1="165.3" x2="275.3" y2="165.3" stroke="#222" stroke-width="0.7" stroke-linecap="butt"/>
<rect x="271.2" y="161.8" width="3.8" height="3.8" fill="#111"/>
<rect x="286.2" y="161.8" width="3.8" height="3.8" fill="#111"/>
<line x1="302.8" y1="165.2" x2="302.8" y2="169.2" stroke="#222" stroke-width="0.7" stroke-linecap="butt"/>
<line x1="300.6" y1="165.2" x2="305" y2="165.2" stroke="#222" stroke-width="0.7" stroke-linecap="butt"/>
<line x1="300.6" y1="169.2" x2="305" y2="169.2" stroke="#222" stroke-width="0.7" stroke-linecap="butt"/>
<rect x="300.9" y="165.3" width="3.8" height="3.8" fill="#111"/>
<line x1="317.8" y1="170.8" x2="317.8" y2="177.2" stroke="#222" stroke-width="0.7" stroke-linecap="butt"/>
<line x1="315.6" y1="170.8" x2="320" y2="170.8" stroke="#222" stroke-width="0.7" stroke-linecap="butt"/>
<line x1="315.6" y1="177.2" x2="320" y2="177.2" stroke="#222" stroke-width="0.7" stroke-linecap="butt"/>
<rect x="315.9" y="172.1" width="3.8" height="3.8" fill="#111"/>
<rect x="330.6" y="180.7" width="3.8" height="3.8" fill="#111"/>
<rect x="345.2" y="186.1" width="3.8" height="3.8" fill="#111"/>
<line x1="227.9" y1="222.2" x2="237.4" y2="222.2" stroke="#222" stroke-width="0.8" stroke-linecap="butt"/>
<rect x="230.5" y="220.3" width="3.8" height="3.8" fill="#111"/>
<text x="242.7" y="224.9" font-size="7.5" font-weight="normal" text-anchor="start" fill="#333" textLength="48.3" lengthAdjust="spacingAndGlyphs">Firefly (control)</text>
<line x1="227.9" y1="235.8" x2="237.4" y2="235.8" stroke="#3b54a4" stroke-width="0.8" stroke-linecap="butt"/>
<circle cx="232.4" cy="235.8" r="1.9" fill="#3b54a4" stroke="#1d2f63" stroke-width="0.5"/>
<text x="242.7" y="238.5" font-size="7.5" font-weight="normal" text-anchor="start" fill="#333" textLength="29.2" lengthAdjust="spacingAndGlyphs">NanoLuc</text>
</g>
<g id="panel-d">
<line x1="418" y1="156.6" x2="418" y2="257.1" stroke="#111" stroke-width="1.25" stroke-linecap="square"/>
<line x1="413.8" y1="257.1" x2="418" y2="257.1" stroke="#111" stroke-width="1.25" stroke-linecap="butt"/>
<text x="410.8" y="259.76" font-size="7.4" font-weight="bold" text-anchor="end" fill="#111">0.00</text>
<line x1="413.8" y1="237" x2="418" y2="237" stroke="#111" stroke-width="1.25" stroke-linecap="butt"/>
<text x="410.8" y="239.66" font-size="7.4" font-weight="bold" text-anchor="end" fill="#111">0.02</text>
<line x1="413.8" y1="216.9" x2="418" y2="216.9" stroke="#111" stroke-width="1.25" stroke-linecap="butt"/>
<text x="410.8" y="219.56" font-size="7.4" font-weight="bold" text-anchor="end" fill="#111">0.04</text>
<line x1="413.8" y1="196.8" x2="418" y2="196.8" stroke="#111" stroke-width="1.25" stroke-linecap="butt"/>
<text x="410.8" y="199.46" font-size="7.4" font-weight="bold" text-anchor="end" fill="#111">0.06</text>
<line x1="413.8" y1="176.7" x2="418" y2="176.7" stroke="#111" stroke-width="1.25" stroke-linecap="butt"/>
<text x="410.8" y="179.36" font-size="7.4" font-weight="bold" text-anchor="end" fill="#111">0.08</text>
<line x1="413.8" y1="156.6" x2="418" y2="156.6" stroke="#111" stroke-width="1.25" stroke-linecap="butt"/>
<text x="410.8" y="159.26" font-size="7.4" font-weight="bold" text-anchor="end" fill="#111">0.10</text>
<line x1="418" y1="257.1" x2="520.5" y2="257.1" stroke="#111" stroke-width="1.25" stroke-linecap="square"/>
<text x="389.5" y="208.8" font-size="8.1" font-weight="bold" text-anchor="middle" fill="#111" transform="rotate(-90 389.5 208.8)" textLength="106.6" lengthAdjust="spacingAndGlyphs">Surviving fraction (5 × 2 Gy)</text>
<rect x="423.85" y="129.9" width="9.5" height="3.8" fill="#231f20" stroke="#15131a" stroke-width="0.9"/>
<text x="437.9" y="134.55" font-size="7.8" font-weight="bold" text-anchor="start" fill="#111" textLength="22.6" lengthAdjust="spacingAndGlyphs">DMSO</text>
<rect x="423.85" y="144.1" width="9.5" height="3.8" fill="#3b54a4" stroke="#15131a" stroke-width="0.9"/>
<text x="437.9" y="148.75" font-size="7.8" font-weight="bold" text-anchor="start" fill="#111" textLength="61.5" lengthAdjust="spacingAndGlyphs">1 µmol/L ART899</text>
<rect x="423.85" y="157.9" width="9.5" height="3.8" fill="#6b52a5" stroke="#15131a" stroke-width="0.9"/>
<text x="437.9" y="162.55" font-size="7.8" font-weight="bold" text-anchor="start" fill="#111" textLength="61.5" lengthAdjust="spacingAndGlyphs">3 µmol/L ART899</text>
<line x1="427.75" y1="176.3" x2="427.75" y2="186.1" stroke="#111" stroke-width="0.85" stroke-linecap="butt"/>
<line x1="425.65" y1="176.3" x2="429.85" y2="176.3" stroke="#111" stroke-width="0.85" stroke-linecap="butt"/>
<rect x="423.75" y="186.55" width="8" height="70.55" fill="#231f20" stroke="#15131a" stroke-width="0.9"/>
<line x1="441.85" y1="227.5" x2="441.85" y2="232.6" stroke="#111" stroke-width="0.85" stroke-linecap="butt"/>
<line x1="439.75" y1="227.5" x2="443.95" y2="227.5" stroke="#111" stroke-width="0.85" stroke-linecap="butt"/>
<rect x="437.65" y="233.05" width="8.4" height="24.05" fill="#3b54a4" stroke="#15131a" stroke-width="0.9"/>
<line x1="456.25" y1="235.4" x2="456.25" y2="239.8" stroke="#111" stroke-width="0.85" stroke-linecap="butt"/>
<line x1="454.15" y1="235.4" x2="458.35" y2="235.4" stroke="#111" stroke-width="0.85" stroke-linecap="butt"/>
<rect x="452.15" y="240.25" width="8.2" height="16.85" fill="#6b52a5" stroke="#15131a" stroke-width="0.9"/>
<line x1="480.7" y1="171.6" x2="480.7" y2="174.8" stroke="#111" stroke-width="0.85" stroke-linecap="butt"/>
<line x1="478.6" y1="171.6" x2="482.8" y2="171.6" stroke="#111" stroke-width="0.85" stroke-linecap="butt"/>
<rect x="476.75" y="175.25" width="7.9" height="81.85" fill="#231f20" stroke="#15131a" stroke-width="0.9"/>
<line x1="494.6" y1="236.4" x2="494.6" y2="240.5" stroke="#111" stroke-width="0.85" stroke-linecap="butt"/>
<line x1="492.5" y1="236.4" x2="496.7" y2="236.4" stroke="#111" stroke-width="0.85" stroke-linecap="butt"/>
<rect x="490.55" y="240.95" width="8.1" height="16.15" fill="#3b54a4" stroke="#15131a" stroke-width="0.9"/>
<line x1="509.05" y1="236.2" x2="509.05" y2="241.8" stroke="#111" stroke-width="0.85" stroke-linecap="butt"/>
<line x1="506.95" y1="236.2" x2="511.15" y2="236.2" stroke="#111" stroke-width="0.85" stroke-linecap="butt"/>
<rect x="504.75" y="242.25" width="8.6" height="14.85" fill="#6b52a5" stroke="#15131a" stroke-width="0.9"/>
<line x1="442.1" y1="257.1" x2="442.1" y2="260.7" stroke="#111" stroke-width="1.25" stroke-linecap="butt"/>
<line x1="494.6" y1="257.1" x2="494.6" y2="260.7" stroke="#111" stroke-width="1.25" stroke-linecap="butt"/>
<text x="441.6" y="272" font-size="8" font-weight="bold" text-anchor="middle" fill="#111">HCT116</text>
<text x="495.8" y="272" font-size="8" font-weight="bold" text-anchor="middle" fill="#111">H460</text>
<text x="442.6" y="226.4" font-size="8.2" font-weight="bold" text-anchor="middle" fill="#111" letter-spacing="0.6" stroke="#111" stroke-width="0.3">**</text>
<text x="457" y="235.4" font-size="8.2" font-weight="bold" text-anchor="middle" fill="#111" letter-spacing="0.6" stroke="#111" stroke-width="0.3">***</text>
<text x="495.2" y="235.4" font-size="8.2" font-weight="bold" text-anchor="middle" fill="#111" letter-spacing="0.6" stroke="#111" stroke-width="0.3">****</text>
<text x="513.1" y="238" font-size="8.2" font-weight="bold" text-anchor="middle" fill="#111" letter-spacing="0.6" stroke="#111" stroke-width="0.3">****</text>
</g>
<g id="panel-e">
<line x1="48.3" y1="326.5" x2="48.3" y2="427.5" stroke="#111" stroke-width="1.25" stroke-linecap="square"/>
<line x1="44.1" y1="427.5" x2="48.3" y2="427.5" stroke="#111" stroke-width="1.25" stroke-linecap="butt"/>
<text x="41.9" y="430.16" font-size="7.4" font-weight="bold" text-anchor="end" fill="#111">0.00</text>
<line x1="44.1" y1="407.3" x2="48.3" y2="407.3" stroke="#111" stroke-width="1.25" stroke-linecap="butt"/>
<text x="41.9" y="409.96" font-size="7.4" font-weight="bold" text-anchor="end" fill="#111">0.01</text>
<line x1="44.1" y1="387.1" x2="48.3" y2="387.1" stroke="#111" stroke-width="1.25" stroke-linecap="butt"/>
<text x="41.9" y="389.76" font-size="7.4" font-weight="bold" text-anchor="end" fill="#111">0.02</text>
<line x1="44.1" y1="366.9" x2="48.3" y2="366.9" stroke="#111" stroke-width="1.25" stroke-linecap="butt"/>
<text x="41.9" y="369.56" font-size="7.4" font-weight="bold" text-anchor="end" fill="#111">0.03</text>
<line x1="44.1" y1="346.7" x2="48.3" y2="346.7" stroke="#111" stroke-width="1.25" stroke-linecap="butt"/>
<text x="41.9" y="349.36" font-size="7.4" font-weight="bold" text-anchor="end" fill="#111">0.04</text>
<line x1="44.1" y1="326.5" x2="48.3" y2="326.5" stroke="#111" stroke-width="1.25" stroke-linecap="butt"/>
<text x="41.9" y="329.16" font-size="7.4" font-weight="bold" text-anchor="end" fill="#111">0.05</text>
<line x1="48.3" y1="427.5" x2="153" y2="427.5" stroke="#111" stroke-width="1.25" stroke-linecap="square"/>
<text x="19.8" y="378.5" font-size="8.1" font-weight="bold" text-anchor="middle" fill="#111" transform="rotate(-90 19.8 378.5)" textLength="106.4" lengthAdjust="spacingAndGlyphs">Surviving fraction (5 × 2 Gy)</text>
<rect x="74.35" y="297.9" width="9.7" height="3.8" fill="#231f20" stroke="#15131a" stroke-width="0.9"/>
<text x="91.2" y="302.55" font-size="7.8" font-weight="bold" text-anchor="start" fill="#111" textLength="22.6" lengthAdjust="spacingAndGlyphs">DMSO</text>
<rect x="74.35" y="312" width="9.7" height="3.8" fill="#3b54a4" stroke="#15131a" stroke-width="0.9"/>
<text x="91.2" y="316.65" font-size="7.8" font-weight="bold" text-anchor="start" fill="#111" textLength="61.5" lengthAdjust="spacingAndGlyphs">1 µmol/L ART899</text>
<rect x="74.35" y="326" width="9.7" height="3.8" fill="#6b52a5" stroke="#15131a" stroke-width="0.9"/>
<text x="91.2" y="330.65" font-size="7.8" font-weight="bold" text-anchor="start" fill="#111" textLength="61.5" lengthAdjust="spacingAndGlyphs">3 µmol/L ART899</text>
<line x1="58.5" y1="342.4" x2="58.5" y2="356.8" stroke="#111" stroke-width="0.85" stroke-linecap="butt"/>
<line x1="56.2" y1="342.4" x2="60.8" y2="342.4" stroke="#111" stroke-width="0.85" stroke-linecap="butt"/>
<rect x="54.05" y="357.25" width="8.9" height="70.25" fill="#231f20" stroke="#15131a" stroke-width="0.9"/>
<line x1="73.05" y1="391.2" x2="73.05" y2="399.4" stroke="#111" stroke-width="0.85" stroke-linecap="butt"/>
<line x1="70.75" y1="391.2" x2="75.35" y2="391.2" stroke="#111" stroke-width="0.85" stroke-linecap="butt"/>
<rect x="68.75" y="399.85" width="8.6" height="27.65" fill="#3b54a4" stroke="#15131a" stroke-width="0.9"/>
<line x1="87.5" y1="401" x2="87.5" y2="405.6" stroke="#111" stroke-width="0.85" stroke-linecap="butt"/>
<line x1="85.2" y1="401" x2="89.8" y2="401" stroke="#111" stroke-width="0.85" stroke-linecap="butt"/>
<rect x="83.15" y="406.05" width="8.7" height="21.45" fill="#6b52a5" stroke="#15131a" stroke-width="0.9"/>
<line x1="111.6" y1="379.2" x2="111.6" y2="389.5" stroke="#111" stroke-width="0.85" stroke-linecap="butt"/>
<line x1="109.3" y1="379.2" x2="113.9" y2="379.2" stroke="#111" stroke-width="0.85" stroke-linecap="butt"/>
<rect x="107.25" y="389.95" width="8.7" height="37.55" fill="#231f20" stroke="#15131a" stroke-width="0.9"/>
<line x1="126.05" y1="379.2" x2="126.05" y2="385.2" stroke="#111" stroke-width="0.85" stroke-linecap="butt"/>
<line x1="123.75" y1="379.2" x2="128.35" y2="379.2" stroke="#111" stroke-width="0.85" stroke-linecap="butt"/>
<rect x="121.75" y="385.65" width="8.6" height="41.85" fill="#3b54a4" stroke="#15131a" stroke-width="0.9"/>
<line x1="140.8" y1="381" x2="140.8" y2="391.1" stroke="#111" stroke-width="0.85" stroke-linecap="butt"/>
<line x1="138.5" y1="381" x2="143.1" y2="381" stroke="#111" stroke-width="0.85" stroke-linecap="butt"/>
<rect x="136.35" y="391.55" width="8.9" height="35.95" fill="#6b52a5" stroke="#15131a" stroke-width="0.9"/>
<line x1="73" y1="427.5" x2="73" y2="431.3" stroke="#111" stroke-width="1.25" stroke-linecap="butt"/>
<line x1="125.6" y1="427.5" x2="125.6" y2="431.3" stroke="#111" stroke-width="1.25" stroke-linecap="butt"/>
<text y="444.2" font-size="8" font-weight="bold" fill="#111"><tspan x="53.3" textLength="21.4" lengthAdjust="spacingAndGlyphs">U2OS</tspan> <tspan x="81.4" textLength="11.8" lengthAdjust="spacingAndGlyphs">WT</tspan></text>
<text y="444.2" font-size="8" font-weight="bold" fill="#111"><tspan x="110.4" textLength="16.8" lengthAdjust="spacingAndGlyphs">Polθ</tspan> <tspan x="134.6" textLength="11.6" lengthAdjust="spacingAndGlyphs">KO</tspan></text>
<text x="73.5" y="390.6" font-size="8.2" font-weight="bold" text-anchor="middle" fill="#111" letter-spacing="0.6" stroke="#111" stroke-width="0.3">*</text>
<text x="88.45" y="401.3" font-size="8.2" font-weight="bold" text-anchor="middle" fill="#111" letter-spacing="0.6" stroke="#111" stroke-width="0.3">**</text>
</g>
<g id="panel-f">
<line x1="233.5" y1="328.45" x2="233.5" y2="429.2" stroke="#111" stroke-width="1.25" stroke-linecap="square"/>
<line x1="229.3" y1="429.2" x2="233.5" y2="429.2" stroke="#111" stroke-width="1.25" stroke-linecap="butt"/>
<text x="226.7" y="431.86" font-size="7.4" font-weight="bold" text-anchor="end" fill="#111">0.00</text>
<line x1="229.3" y1="409.05" x2="233.5" y2="409.05" stroke="#111" stroke-width="1.25" stroke-linecap="butt"/>
<text x="226.7" y="411.71" font-size="7.4" font-weight="bold" text-anchor="end" fill="#111">0.02</text>
<line x1="229.3" y1="388.9" x2="233.5" y2="388.9" stroke="#111" stroke-width="1.25" stroke-linecap="butt"/>
<text x="226.7" y="391.56" font-size="7.4" font-weight="bold" text-anchor="end" fill="#111">0.04</text>
<line x1="229.3" y1="368.75" x2="233.5" y2="368.75" stroke="#111" stroke-width="1.25" stroke-linecap="butt"/>
<text x="226.7" y="371.41" font-size="7.4" font-weight="bold" text-anchor="end" fill="#111">0.06</text>
<line x1="229.3" y1="348.6" x2="233.5" y2="348.6" stroke="#111" stroke-width="1.25" stroke-linecap="butt"/>
<text x="226.7" y="351.26" font-size="7.4" font-weight="bold" text-anchor="end" fill="#111">0.08</text>
<line x1="229.3" y1="328.45" x2="233.5" y2="328.45" stroke="#111" stroke-width="1.25" stroke-linecap="butt"/>
<text x="226.7" y="331.11" font-size="7.4" font-weight="bold" text-anchor="end" fill="#111">0.10</text>
<line x1="233.5" y1="429.2" x2="334.8" y2="429.2" stroke="#111" stroke-width="1.25" stroke-linecap="square"/>
<text x="203.8" y="379.7" font-size="8.1" font-weight="bold" text-anchor="middle" fill="#111" transform="rotate(-90 203.8 379.7)" textLength="107" lengthAdjust="spacingAndGlyphs">Surviving fraction (5 × 2 Gy)</text>
<rect x="251.65" y="297.6" width="10.5" height="3.8" fill="#231f20" stroke="#15131a" stroke-width="0.9"/>
<text x="265.8" y="302.25" font-size="7.8" font-weight="bold" text-anchor="start" fill="#111" textLength="22.6" lengthAdjust="spacingAndGlyphs">DMSO</text>
<rect x="251.65" y="311.9" width="10.5" height="3.8" fill="#3b54a4" stroke="#15131a" stroke-width="0.9"/>
<text x="265.8" y="316.55" font-size="7.8" font-weight="bold" text-anchor="start" fill="#111" textLength="61.5" lengthAdjust="spacingAndGlyphs">1 µmol/L ART899</text>
<rect x="251.65" y="325.9" width="10.5" height="3.8" fill="#6b52a5" stroke="#15131a" stroke-width="0.9"/>
<text x="265.8" y="330.55" font-size="7.8" font-weight="bold" text-anchor="start" fill="#111" textLength="61.5" lengthAdjust="spacingAndGlyphs">3 µmol/L ART899</text>
<line x1="242.7" y1="331.2" x2="242.7" y2="335.6" stroke="#111" stroke-width="0.85" stroke-linecap="butt"/>
<line x1="240.3" y1="331.2" x2="245.1" y2="331.2" stroke="#111" stroke-width="0.85" stroke-linecap="butt"/>
<rect x="238.35" y="336.05" width="8.7" height="93.15" fill="#231f20" stroke="#15131a" stroke-width="0.9"/>
<line x1="257.3" y1="341.2" x2="257.3" y2="346.9" stroke="#111" stroke-width="0.85" stroke-linecap="butt"/>
<line x1="254.9" y1="341.2" x2="259.7" y2="341.2" stroke="#111" stroke-width="0.85" stroke-linecap="butt"/>
<rect x="253.05" y="347.35" width="8.5" height="81.85" fill="#3b54a4" stroke="#15131a" stroke-width="0.9"/>
<line x1="271.6" y1="336.2" x2="271.6" y2="346.9" stroke="#111" stroke-width="0.85" stroke-linecap="butt"/>
<line x1="269.2" y1="336.2" x2="274" y2="336.2" stroke="#111" stroke-width="0.85" stroke-linecap="butt"/>
<rect x="267.35" y="347.35" width="8.5" height="81.85" fill="#6b52a5" stroke="#15131a" stroke-width="0.9"/>
<line x1="296" y1="341.1" x2="296" y2="346.9" stroke="#111" stroke-width="0.85" stroke-linecap="butt"/>
<line x1="293.6" y1="341.1" x2="298.4" y2="341.1" stroke="#111" stroke-width="0.85" stroke-linecap="butt"/>
<rect x="291.65" y="347.35" width="8.7" height="81.85" fill="#231f20" stroke="#15131a" stroke-width="0.9"/>
<line x1="310.5" y1="339.3" x2="310.5" y2="357.1" stroke="#111" stroke-width="0.85" stroke-linecap="butt"/>
<line x1="308.1" y1="339.3" x2="312.9" y2="339.3" stroke="#111" stroke-width="0.85" stroke-linecap="butt"/>
<rect x="306.25" y="357.55" width="8.5" height="71.65" fill="#3b54a4" stroke="#15131a" stroke-width="0.9"/>
<line x1="325.05" y1="350.2" x2="325.05" y2="358.9" stroke="#111" stroke-width="0.85" stroke-linecap="butt"/>
<line x1="322.65" y1="350.2" x2="327.45" y2="350.2" stroke="#111" stroke-width="0.85" stroke-linecap="butt"/>
<rect x="320.55" y="359.35" width="9" height="69.85" fill="#6b52a5" stroke="#15131a" stroke-width="0.9"/>
<line x1="257.3" y1="429.2" x2="257.3" y2="433" stroke="#111" stroke-width="1.25" stroke-linecap="butt"/>
<line x1="310.4" y1="429.2" x2="310.4" y2="433" stroke="#111" stroke-width="1.25" stroke-linecap="butt"/>
<text x="255.7" y="444.6" font-size="8" font-weight="bold" text-anchor="middle" fill="#111" textLength="25.2" lengthAdjust="spacingAndGlyphs">MRC-5</text>
<text x="308.5" y="444.6" font-size="8" font-weight="bold" text-anchor="middle" fill="#111" textLength="33.7" lengthAdjust="spacingAndGlyphs">AG01552</text>
</g>
<g id="panel-g">
<line x1="421.9" y1="328.9" x2="421.9" y2="429.3" stroke="#111" stroke-width="1.25" stroke-linecap="square"/>
<line x1="417.9" y1="429.3" x2="421.9" y2="429.3" stroke="#111" stroke-width="1.25" stroke-linecap="butt"/>
<text x="415.6" y="431.96" font-size="7.4" font-weight="bold" text-anchor="end" fill="#111">0.0</text>
<line x1="417.9" y1="404.2" x2="421.9" y2="404.2" stroke="#111" stroke-width="1.25" stroke-linecap="butt"/>
<text x="415.6" y="406.86" font-size="7.4" font-weight="bold" text-anchor="end" fill="#111">0.1</text>
<line x1="417.9" y1="379.1" x2="421.9" y2="379.1" stroke="#111" stroke-width="1.25" stroke-linecap="butt"/>
<text x="415.6" y="381.76" font-size="7.4" font-weight="bold" text-anchor="end" fill="#111">0.2</text>
<line x1="417.9" y1="354" x2="421.9" y2="354" stroke="#111" stroke-width="1.25" stroke-linecap="butt"/>
<text x="415.6" y="356.66" font-size="7.4" font-weight="bold" text-anchor="end" fill="#111">0.3</text>
<line x1="417.9" y1="328.9" x2="421.9" y2="328.9" stroke="#111" stroke-width="1.25" stroke-linecap="butt"/>
<text x="415.6" y="331.56" font-size="7.4" font-weight="bold" text-anchor="end" fill="#111">0.4</text>
<line x1="421.9" y1="429.3" x2="489.5" y2="429.3" stroke="#111" stroke-width="1.25" stroke-linecap="square"/>
<text x="396" y="378.6" font-size="8.1" font-weight="bold" text-anchor="middle" fill="#111" transform="rotate(-90 396 378.6)" textLength="110.6" lengthAdjust="spacingAndGlyphs">Normalized viability (5 × 2 Gy)</text>
<rect x="424.75" y="304" width="9.7" height="3.8" fill="#231f20" stroke="#15131a" stroke-width="0.9"/>
<text x="439.2" y="308.65" font-size="7.8" font-weight="bold" text-anchor="start" fill="#111" textLength="22.6" lengthAdjust="spacingAndGlyphs">DMSO</text>
<rect x="424.75" y="316.3" width="9.7" height="3.8" fill="#6b52a5" stroke="#15131a" stroke-width="0.9"/>
<text x="439.2" y="320.95" font-size="7.8" font-weight="bold" text-anchor="start" fill="#111" textLength="61.5" lengthAdjust="spacingAndGlyphs">3 µmol/L ART899</text>
<line x1="441.4" y1="339.4" x2="441.4" y2="356.9" stroke="#111" stroke-width="0.85" stroke-linecap="butt"/>
<line x1="436.1" y1="339.4" x2="446.7" y2="339.4" stroke="#111" stroke-width="0.85" stroke-linecap="butt"/>
<rect x="432.45" y="357.35" width="17.9" height="71.95" fill="#231f20" stroke="#15131a" stroke-width="0.9"/>
<line x1="470.35" y1="339.4" x2="470.35" y2="350.5" stroke="#111" stroke-width="0.85" stroke-linecap="butt"/>
<line x1="465.05" y1="339.4" x2="475.65" y2="339.4" stroke="#111" stroke-width="0.85" stroke-linecap="butt"/>
<rect x="461.45" y="350.95" width="17.8" height="78.35" fill="#6b52a5" stroke="#15131a" stroke-width="0.9"/>
<line x1="455.6" y1="429.3" x2="455.6" y2="433.3" stroke="#111" stroke-width="1.25" stroke-linecap="butt"/>
<text x="455.4" y="443.5" font-size="8" font-weight="bold" text-anchor="middle" fill="#111" textLength="22.8" lengthAdjust="spacingAndGlyphs">HIEC6</text>
</g>
</svg>
</body>
</html>
